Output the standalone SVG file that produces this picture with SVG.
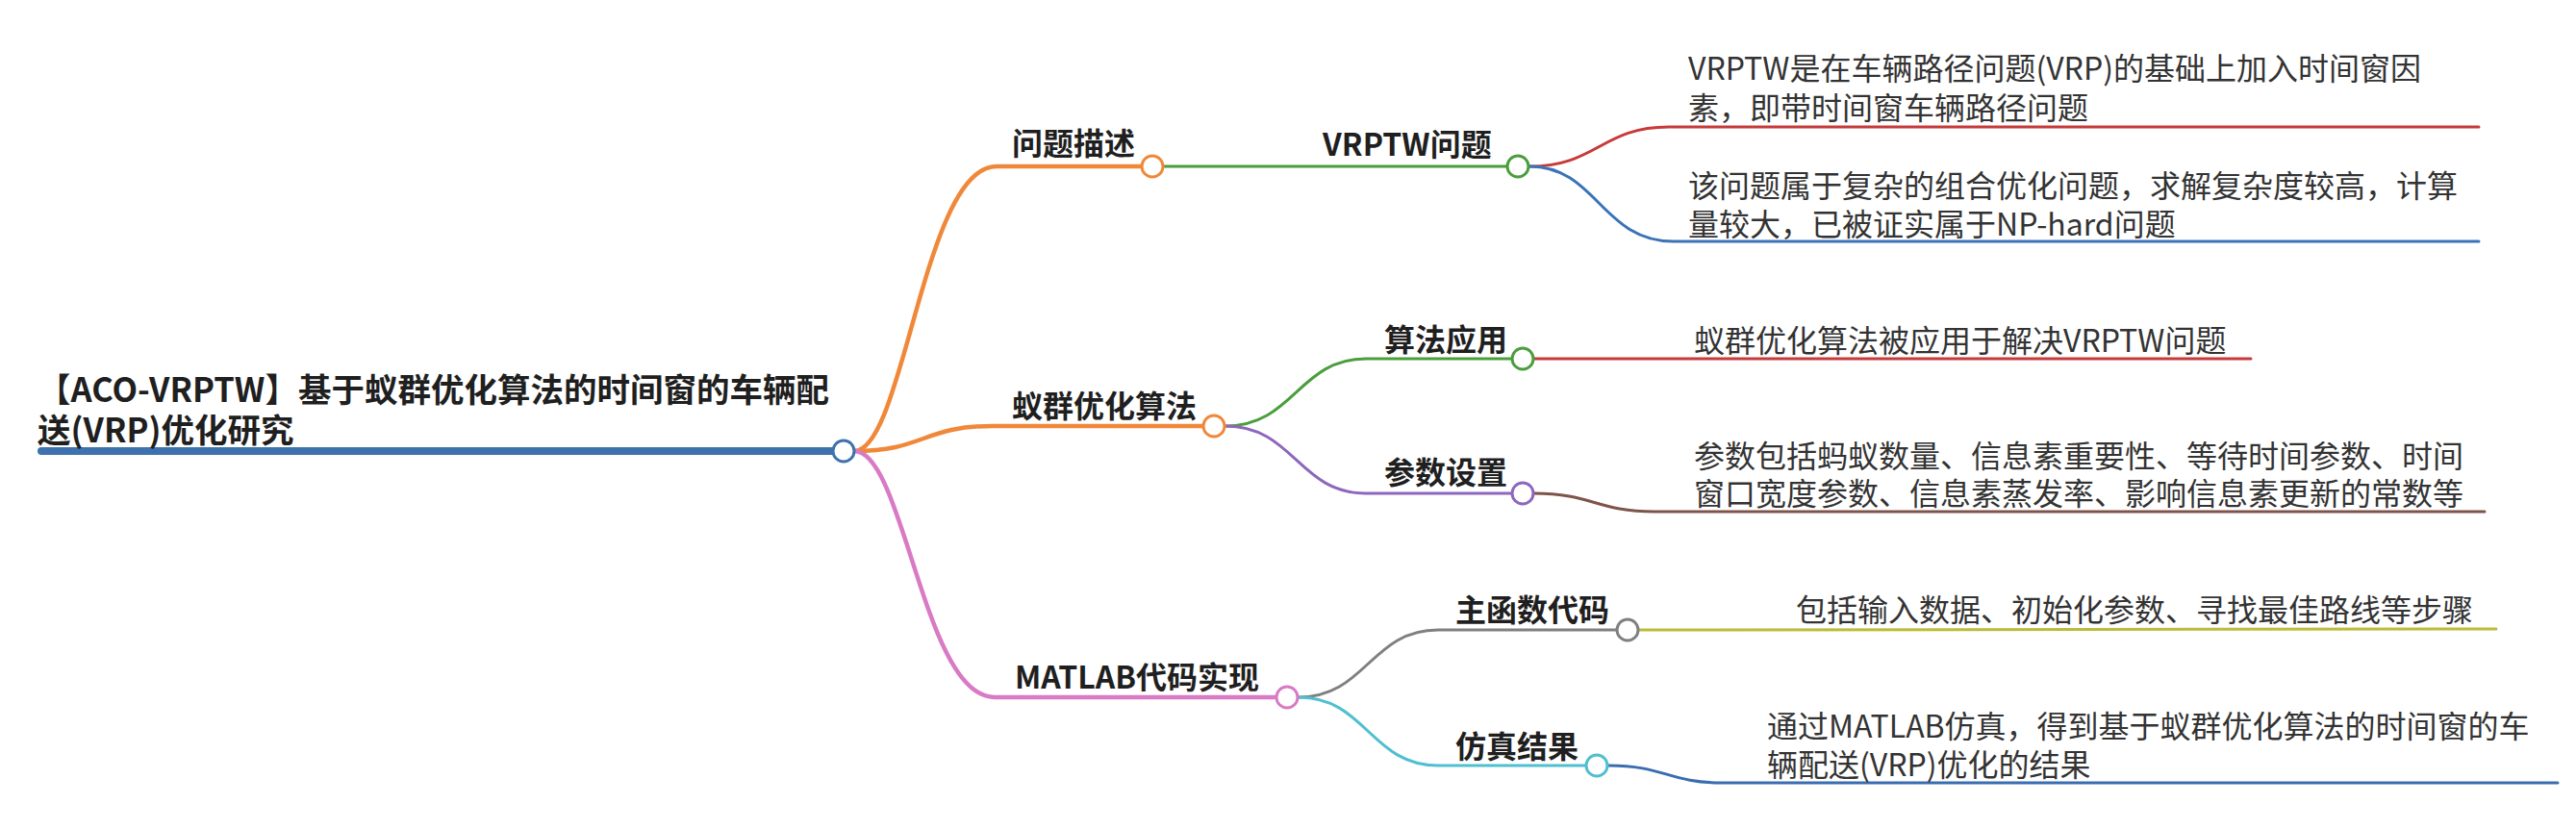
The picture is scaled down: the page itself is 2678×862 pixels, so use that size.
<svg xmlns="http://www.w3.org/2000/svg" width="2678" height="862" viewBox="0 0 2678 862">
<style>
text{font-family:"Noto Sans CJK SC","Noto Sans",sans-serif;font-size:32px}
.b{font-weight:700;fill:#1f1f1f}
.r{font-size:34.5px}
.l{font-weight:400;fill:#333}
.c{fill:none;stroke-linecap:round}
.w1{stroke-width:4.5}
.w2{stroke-width:3}
.n{fill:#fff;stroke-width:3}
</style>
<rect width="2678" height="862" fill="#fff"/>
<g id="connectors">
<path class="c" d="M43 469 L866 469" stroke="#3d72af" stroke-width="8" stroke-linecap="butt"/>
<path class="c w1" stroke="#f0883a" d="M888 469 C940 469 960 173 1036 173 L1186 173"/>
<path class="c w1" stroke="#f0883a" d="M888 469 C960 469 960 443 1032 443 L1251 443"/>
<path class="c w1" stroke="#d87ac5" d="M888 469 C940 469 960 725 1034 725 L1326 725"/>
<path class="c w2" stroke="#4a9e3c" d="M1210 173 L1566 173"/>
<path class="c w2" stroke="#4a9e3c" d="M1274 443 C1345 443 1350 373 1420 373 L1571 373"/>
<path class="c w2" stroke="#8e66bd" d="M1274 443 C1345 443 1350 513 1420 513 L1571 513"/>
<path class="c w2" stroke="#808080" d="M1350 725 C1420 725 1425 655 1495 655 L1680 655"/>
<path class="c w2" stroke="#50bfd0" d="M1350 725 C1420 725 1425 796 1495 796 L1648 796"/>
<path class="c w2" stroke="#c8393a" d="M1590 173 C1660 173 1665 132 1735 132 L2577 132"/>
<path class="c w2" stroke="#3a73b8" d="M1590 173 C1660 173 1665 251 1740 251 L2577 251"/>
<path class="c w2" stroke="#c8393a" d="M1595 373 L2340 373"/>
<path class="c w2" stroke="#7e544a" d="M1595 513 C1655 513 1660 532 1720 532 L2583 532"/>
<path class="c w2" stroke="#bcbb3c" d="M1704 655 L2595 654"/>
<path class="c w2" stroke="#3a6db0" d="M1672 796 C1730 796 1735 814 1790 814 L2659 814"/>
</g>
<g id="root">
<text class="b r" x="39" y="418">【ACO-VRPTW】基于蚁群优化算法的时间窗的车辆配</text>
<text class="b r" x="39" y="460">送(VRP)优化研究</text>
<circle class="n" cx="877" cy="469" r="11" stroke="#3d72af" stroke-width="3.5"/>
</g>
<g id="n-wenti">
<text class="b" x="1052" y="161">问题描述</text>
<circle class="n" cx="1198" cy="173" r="11" stroke="#f0883a"/>
</g>
<g id="n-vrptw">
<text class="b" x="1375" y="162">VRPTW问题</text>
<circle class="n" cx="1578" cy="173" r="11" stroke="#4a9e3c"/>
</g>
<g id="leaf-vrptw-1">
<text class="l" x="1755" y="83">VRPTW是在车辆路径问题(VRP)的基础上加入时间窗因</text>
<text class="l" x="1755" y="124">素，即带时间窗车辆路径问题</text>
</g>
<g id="leaf-vrptw-2">
<text class="l" x="1755" y="205">该问题属于复杂的组合优化问题，求解复杂度较高，计算</text>
<text class="l" x="1755" y="245">量较大，已被证实属于NP-hard问题</text>
</g>
<g id="n-aco">
<text class="b" x="1052" y="434">蚁群优化算法</text>
<circle class="n" cx="1262" cy="443" r="11" stroke="#f0883a"/>
</g>
<g id="n-suanfa">
<text class="b" x="1439" y="365">算法应用</text>
<circle class="n" cx="1583" cy="373" r="11" stroke="#4a9e3c"/>
</g>
<g id="leaf-suanfa">
<text class="l" x="1761" y="366">蚁群优化算法被应用于解决VRPTW问题</text>
</g>
<g id="n-canshu">
<text class="b" x="1439" y="503">参数设置</text>
<circle class="n" cx="1583" cy="513" r="11" stroke="#8e66bd"/>
</g>
<g id="leaf-canshu">
<text class="l" x="1761" y="486">参数包括蚂蚁数量、信息素重要性、等待时间参数、时间</text>
<text class="l" x="1761" y="525">窗口宽度参数、信息素蒸发率、影响信息素更新的常数等</text>
</g>
<g id="n-matlab">
<text class="b" x="1055" y="716">MATLAB代码实现</text>
<circle class="n" cx="1338" cy="725" r="11" stroke="#d87ac5"/>
</g>
<g id="n-main">
<text class="b" x="1513" y="646">主函数代码</text>
<circle class="n" cx="1692" cy="655" r="11" stroke="#808080"/>
</g>
<g id="leaf-main">
<text class="l" x="1867" y="646">包括输入数据、初始化参数、寻找最佳路线等步骤</text>
</g>
<g id="n-sim">
<text class="b" x="1513" y="788">仿真结果</text>
<circle class="n" cx="1660" cy="796" r="11" stroke="#50bfd0"/>
</g>
<g id="leaf-sim">
<text class="l" x="1837" y="767">通过MATLAB仿真，得到基于蚁群优化算法的时间窗的车</text>
<text class="l" x="1837" y="807">辆配送(VRP)优化的结果</text>
</g>
</svg>
